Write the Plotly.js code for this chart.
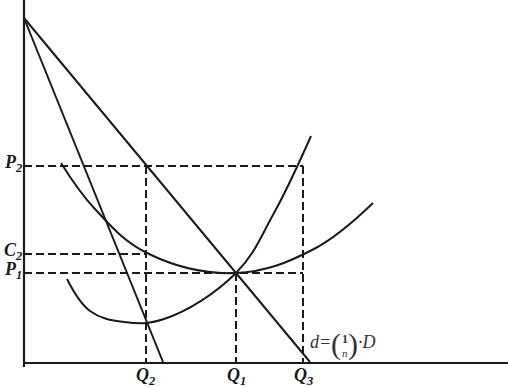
<!DOCTYPE html>
<html>
<head>
<meta charset="utf-8">
<script src="https://cdn.plot.ly/plotly-3.0.1.min.js"></script>
<style>html,body{margin:0;padding:0;background:#fff}#chart{width:508px;height:387px}</style>
</head>
<body>
<div id="chart"></div>
<script>
// Demand D and marginal revenue (straight lines)
const demandX = [0, 286];
const demandY = [345, 1];
const mrX = [0, 139];
const mrY = [345, 1];
// Average cost (large U)
const acX = [37, 70, 123, 212, 290, 349];
const acY = [200, 155, 110, 90, 114, 160];
// Marginal cost (small U)
const mcX = [43, 66, 100, 140, 212, 250, 287];
const mcY = [84, 52, 41, 44, 90, 150, 227];
// Reference quantities and prices
const qNames = ["Q<sub>2</sub>", "Q<sub>1</sub>", "Q<sub>3</sub>"];
const qValues = [122, 212, 279];
const pNames = ["P<sub>2</sub>", "C<sub>2</sub>", "P<sub>1</sub>"];
const pValues = [197, 109, 90];
const axisXMax = 484, axisYMax = 363;

const ink = '#1a1a1a';
const solid = {color: ink, width: 2};
const dashed = {color: ink, width: 2, dash: '8px,4px'};
const traces = [];
function line(x, y, l, shape) {
  traces.push({x: x, y: y, type: 'scatter', mode: 'lines', line: Object.assign({}, l, shape ? {shape: shape, smoothing: 1.1} : {}), hoverinfo: 'skip'});
}
// axes
line([0, 0], [-4, axisYMax], {color: ink, width: 2.2});
line([0, axisXMax], [0, 0], {color: ink, width: 2.2});
// dashed guides
line([0, qValues[2]], [pValues[0], pValues[0]], dashed);
line([0, qValues[0]], [pValues[1], pValues[1]], dashed);
line([0, qValues[2]], [pValues[2], pValues[2]], dashed);
line([qValues[0], qValues[0]], [pValues[0], 0], dashed);
line([qValues[2], qValues[2]], [pValues[0], 0], dashed);
line([qValues[1], qValues[1]], [pValues[2], 0], dashed);
// curves
line(demandX, demandY, solid);
line(mrX, mrY, solid);
line(acX, acY, solid, 'spline');
line(mcX, mcY, solid, 'spline');

const labFont = {family: 'Liberation Serif, Times New Roman, serif', size: 18, color: ink, weight: 'bold', style: 'italic'};
const annotations = [];
qNames.forEach((t, i) => annotations.push({x: qValues[i], y: -13, text: t, showarrow: false, xanchor: 'center', yanchor: 'middle', font: labFont}));
pNames.forEach((t, i) => annotations.push({x: -22, y: pValues[i] + 3, text: t, showarrow: false, xanchor: 'left', yanchor: 'middle', font: labFont}));
const dFont = {family: 'Liberation Serif, Times New Roman, serif', size: 18, color: '#333', style: 'italic'};
annotations.push({x: 309, y: 21, text: 'd=', showarrow: false, xanchor: 'right', yanchor: 'middle', font: dFont});
annotations.push({x: 312, y: 19, text: '(', showarrow: false, xanchor: 'center', yanchor: 'middle', font: {family: 'Liberation Serif, serif', size: 30, color: '#333'}});
annotations.push({x: 321, y: 24, text: '1', showarrow: false, xanchor: 'center', yanchor: 'middle', font: {family: 'Liberation Serif, serif', size: 12, color: '#333', weight: 'bold'}});
annotations.push({x: 321, y: 10, text: 'n', showarrow: false, xanchor: 'center', yanchor: 'middle', font: {family: 'Liberation Serif, serif', size: 11, color: '#333', style: 'italic'}});
annotations.push({x: 329, y: 19, text: ')', showarrow: false, xanchor: 'center', yanchor: 'middle', font: {family: 'Liberation Serif, serif', size: 30, color: '#333'}});
annotations.push({x: 332, y: 21, text: '·D', showarrow: false, xanchor: 'left', yanchor: 'middle', font: dFont});

Plotly.newPlot('chart', traces, {
  width: 508, height: 387,
  margin: {l: 0, r: 0, t: 0, b: 0},
  paper_bgcolor: '#fff', plot_bgcolor: '#fff',
  showlegend: false,
  xaxis: {range: [-24, 484], visible: false, fixedrange: true},
  yaxis: {range: [-24, 363], visible: false, fixedrange: true},
  annotations: annotations
}, {staticPlot: true});
</script>
</body>
</html>
